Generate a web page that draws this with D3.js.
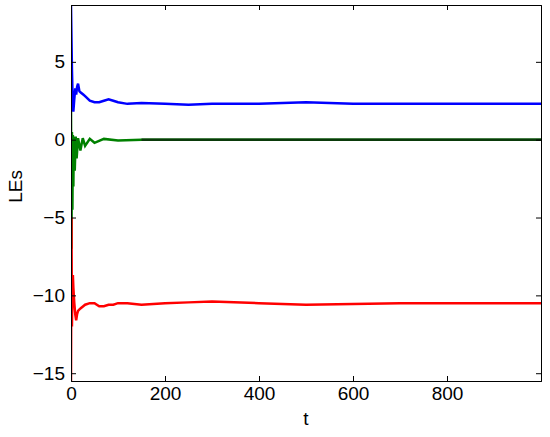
<!DOCTYPE html>
<html>
<head>
<meta charset="utf-8">
<script src="https://cdn.jsdelivr.net/npm/d3@7"></script>
<style>
body { margin: 0; background: #fff; }
text { font-family: Arial, "Liberation Sans", sans-serif; }
</style>
</head>
<body>
<svg id="chart" width="550" height="437"></svg>
<script>
// Lyapunov exponents
const tBlue = [0, 1, 2, 3, 4, 5, 7, 9, 11, 13, 15, 18, 22, 26, 30, 40, 50, 60, 70, 80, 90, 100, 120, 150, 200, 250, 300, 400, 500, 550, 600, 700, 800, 900, 1000];
const leBlue = [8.6, 6.5, 4.5, 3.2, 2.0, 1.8, 2.6, 3.3, 2.9, 3.4, 3.6, 3.1, 3.0, 2.9, 2.8, 2.5, 2.4, 2.4, 2.5, 2.6, 2.5, 2.4, 2.3, 2.35, 2.3, 2.25, 2.3, 2.3, 2.4, 2.35, 2.3, 2.3, 2.3, 2.3, 2.3];

const tGreen = [0, 1, 2, 3, 4, 5, 6, 8, 10, 12, 15, 20, 25, 30, 40, 50, 70, 100, 150, 200, 1000];
const leGreen = [2.0, -7.0, 0.5, -4.5, 0.3, -3.0, 0.2, -2.0, 0.2, -1.2, 0.1, -0.7, 0.1, -0.4, 0.05, -0.2, 0.05, -0.05, 0, 0, 0];

const tRed = [0, 1, 2, 3, 4, 5, 7, 9, 11, 13, 15, 18, 22, 26, 30, 40, 50, 60, 70, 80, 90, 100, 120, 150, 200, 250, 300, 400, 500, 600, 700, 800, 900, 1000];
const leRed = [-15.5, -5.0, -12.0, -9.0, -8.7, -9.5, -10.5, -11.2, -11.6, -11.2, -11.0, -10.9, -10.8, -10.7, -10.6, -10.5, -10.5, -10.7, -10.7, -10.6, -10.6, -10.5, -10.5, -10.6, -10.5, -10.45, -10.4, -10.5, -10.6, -10.55, -10.5, -10.5, -10.5, -10.5];

const xTicks = [0, 200, 400, 600, 800];
const yTicks = [-15, -10, -5, 0, 5];

const margin = { left: 71, top: 5, right: 9, bottom: 56 };
const width = 550, height = 437;
const svg = d3.select('#chart');

const x = d3.scaleLinear().domain([0, 1000]).range([margin.left, width - margin.right]);
const y = d3.scaleLinear().domain([-15.5, 8.65]).range([height - margin.bottom, margin.top]);

const series = [
    { t: tGreen, v: leGreen, color: '#008000' },
    { t: tBlue, v: leBlue, color: '#0000ff' },
    { t: tRed, v: leRed, color: '#ff0000' }
];

svg.append('clipPath').attr('id', 'clip')
    .append('rect')
    .attr('x', margin.left).attr('y', margin.top)
    .attr('width', width - margin.left - margin.right)
    .attr('height', height - margin.top - margin.bottom);

const line = d3.line().x(d => x(d[0])).y(d => y(d[1]));
const plot = svg.append('g').attr('clip-path', 'url(#clip)');
series.forEach(s => {
    plot.append('path')
        .datum(s.t.map((t, i) => [t, s.v[i]]))
        .attr('d', line)
        .attr('fill', 'none')
        .attr('stroke', s.color)
        .attr('stroke-width', 2.5);
});
// zero line of the green series is dark
plot.append('line')
    .attr('x1', x(150)).attr('x2', x(1000))
    .attr('y1', y(0)).attr('y2', y(0))
    .attr('stroke', '#0a3a0a').attr('stroke-width', 2.5);

// axes box
const xAxis = d3.axisBottom(x).tickValues(xTicks).tickSize(-5).tickPadding(6);
const yAxis = d3.axisLeft(y).tickValues(yTicks).tickSize(-5).tickPadding(6);
const gx = svg.append('g').attr('transform', `translate(0,${height - margin.bottom})`).call(xAxis);
const gy = svg.append('g').attr('transform', `translate(${margin.left},0)`).call(yAxis);
svg.append('g').attr('transform', `translate(0,${margin.top})`)
    .call(d3.axisTop(x).tickValues(xTicks).tickSize(-5).tickFormat(''));
svg.append('g').attr('transform', `translate(${width - margin.right},0)`)
    .call(d3.axisRight(y).tickValues(yTicks).tickSize(-5).tickFormat(''));
svg.selectAll('.domain').attr('stroke', '#000');
[gx, gy].forEach(g => g.selectAll('text').attr('font-size', 19).attr('fill', '#000'));
svg.selectAll('.tick line').attr('stroke', '#000');

svg.append('text')
    .attr('x', x(500)).attr('y', 425)
    .attr('text-anchor', 'middle').attr('font-size', 19)
    .text('t');
svg.append('text')
    .attr('transform', `translate(22,${y(-3)}) rotate(-90)`)
    .attr('text-anchor', 'middle').attr('font-size', 19)
    .text('LEs');
</script>
</body>
</html>
